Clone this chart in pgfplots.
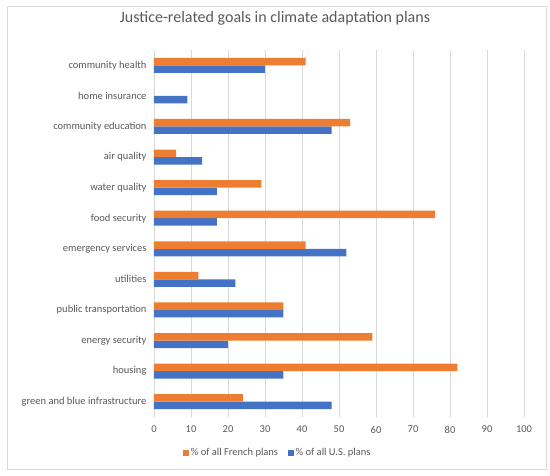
\documentclass[border=0pt]{standalone}
\usepackage{pgfplots}
\pgfplotsset{compat=1.18}
\usepackage{fontspec}
\setmainfont{Carlito}
\definecolor{xlorange}{HTML}{ED7D31}
\definecolor{xlblue}{HTML}{4472C4}
\definecolor{xltext}{HTML}{595959}
\definecolor{xlgrid}{HTML}{D9D9D9}
\begin{document}
\begin{tikzpicture}[x=1pt,y=1pt]
\useasboundingbox (0,0) rectangle (550,475);
\draw[xlgrid, line width=0.8pt] (7,6) rectangle (546,469);
\node[text=xltext, font=\fontsize{16}{18}\selectfont] at (275,457) {Justice-related goals in climate adaptation plans};
\begin{axis}[
  at={(154pt,58pt)}, anchor=south west,
  scale only axis, width=370pt, height=367pt,
  xbar, bar width=7.5pt,
  xmin=0, xmax=100, ymin=-0.5, ymax=11.5,
  xtick={0,10,...,100},
  ytick={0,...,11},
  yticklabels={green and blue infrastructure, housing, energy security, public transportation, utilities, emergency services, food security, water quality, air quality, community education, home insurance, community health},
  axis line style={draw=none},
  major tick length=0pt,
  xmajorgrids, grid style={xlgrid, line width=0.8pt},
  tick label style={text=xltext, font=\fontsize{10.5}{12}\selectfont},
  /pgf/number format/assume math mode=true,
  xticklabel style={yshift=-5.5pt},
  yticklabel style={xshift=-4pt},
  legend style={at={(0.335,-0.098)}, anchor=center, draw=none, fill=none,
    legend columns=2, font=\fontsize{10.5}{12}\selectfont, text=xltext,
    /tikz/every even column/.append style={column sep=8pt}},
  legend image code/.code={\fill[#1] (0pt,-2.8pt) rectangle (5.6pt,2.8pt);},
  reverse legend,
]
\addplot[fill=xlblue, draw=none, bar shift=-3.75pt] coordinates {
(48,0) (35,1) (20,2) (35,3) (22,4) (52,5) (17,6) (17,7) (13,8) (48,9) (9,10) (30,11)};
\addplot[fill=xlorange, draw=none, bar shift=3.75pt] coordinates {
(24,0) (82,1) (59,2) (35,3) (12,4) (41,5) (76,6) (29,7) (6,8) (53,9) (0,10) (41,11)};
\legend{\% of all U.S. plans, \% of all French plans}
\end{axis}
\end{tikzpicture}
\end{document}
